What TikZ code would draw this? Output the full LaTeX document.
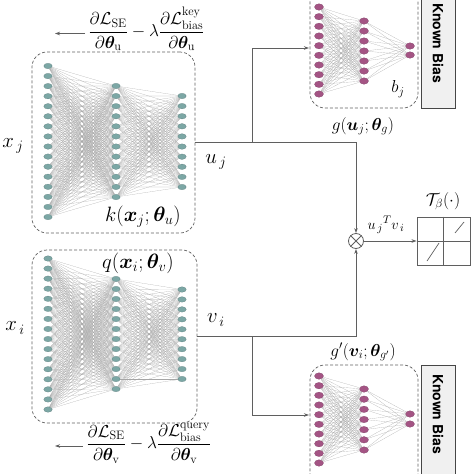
\documentclass[tikz,border=0pt]{standalone}
\usepackage{amsmath,bm}
\usepackage{fontspec}
\newfontfamily\biasfont{TeX Gyre Heros}
\usetikzlibrary{arrows.meta,shapes.geometric}

\definecolor{keyteal}{RGB}{124,167,165}
\definecolor{biasplum}{RGB}{164,84,132}
\definecolor{linegray}{RGB}{95,95,95}

\tikzset{x=1pt,y=-1pt,
  tealunit/.style={ellipse,draw=keyteal!75!black,fill=keyteal,line width=0.2pt,
    inner sep=0pt,minimum width=8.5pt,minimum height=5.5pt},
  plumunit/.style={ellipse,draw=biasplum!75!black,fill=biasplum,line width=0.2pt,
    inner sep=0pt,minimum width=9pt,minimum height=6.5pt},
  wire/.style={draw=gray!70,line width=0.15pt},
  netbox/.style={draw=linegray,dash pattern=on 3pt off 2pt,rounded corners=15pt,
    line width=0.7pt,inner sep=0pt},
  flow/.style={draw=linegray,line width=0.8pt,-{Stealth[length=5pt,width=3.5pt]}},
  plain/.style={draw=linegray,line width=0.8pt},
  biasbox/.style={draw=gray!55!black,fill=gray!12,line width=0.9pt,inner sep=0pt},
  biastext/.style={rotate=-90,font=\biasfont\bfseries\fontsize{14}{16}\selectfont},
  lblbig/.style={font=\fontsize{21}{24}\selectfont},
  lblmid/.style={font=\fontsize{17}{20}\selectfont},
  lblgrad/.style={font=\fontsize{17.5}{20}\selectfont},
  lblsmall/.style={font=\fontsize{15}{18}\selectfont}}

% one column of units: name, x, first y, last y, count, style
\newcommand{\unitcol}[6]{%
  \foreach \ik in {1,...,#5}
    \node[#6] (#1\ik) at (#2,{#3+(\ik-1)*(#4-#3)/(#5-1)}) {};}
% every unit of one column to every unit of the next
\newcommand{\fullwire}[4]{%
  \foreach \ia in {1,...,#2}
    \foreach \ib in {1,...,#4}
      \draw[wire] (#1\ia) -- (#3\ib);}

\begin{document}
\begin{tikzpicture}
\useasboundingbox (0,0) rectangle (474,474);
\clip (0,0) rectangle (474,474);

% key network k
\node[netbox,minimum width=163pt,minimum height=181pt] (kbox) at (113.5,142.5) {};
\unitcol{kA}{48}{66}{217}{16}{tealunit}
\unitcol{kB}{116}{86}{197}{12}{tealunit}
\unitcol{kC}{182}{96}{187}{10}{tealunit}
\fullwire{kA}{16}{kB}{12}
\fullwire{kB}{12}{kC}{10}

% query network q
\node[netbox,minimum width=165pt,minimum height=173pt] (qbox) at (114.5,336.5) {};
\unitcol{qA}{48}{258.5}{409.5}{16}{tealunit}
\unitcol{qB}{116}{279}{389}{12}{tealunit}
\unitcol{qC}{182}{289.5}{379}{10}{tealunit}
\fullwire{qA}{16}{qB}{12}
\fullwire{qB}{12}{qC}{10}

% bias network g
\node[netbox,minimum width=108pt,minimum height=140pt] (gbox) at (364,38) {};
\unitcol{gA}{319}{7}{94}{10}{plumunit}
\unitcol{gB}{364}{21}{81}{7}{plumunit}
\unitcol{gC}{410}{46}{55}{2}{plumunit}
\fullwire{gA}{10}{gB}{7}
\fullwire{gB}{7}{gC}{2}

% bias network g'
\node[netbox,minimum width=108pt,minimum height=140pt] (hbox) at (364,435) {};
\unitcol{hA}{319}{376}{463}{10}{plumunit}
\unitcol{hB}{364}{389}{450}{7}{plumunit}
\unitcol{hC}{410}{414}{424}{2}{plumunit}
\fullwire{hA}{10}{hB}{7}
\fullwire{hB}{7}{hC}{2}

% known bias
\node[biasbox,minimum width=34pt,minimum height=140pt] (kbias) at (438,38) {};
\node[biastext] (kbiastext) at (438,43) {Known Bias};
\node[biasbox,minimum width=34pt,minimum height=140pt] (qbias) at (438,435) {};
\node[biastext] (qbiastext) at (438,414) {Known Bias};

% labels
\node[lblbig] (xj) at (13,146) {$x_{\,j}$};
\node[lblbig] (uj) at (216,162) {$u_{\,j}$};
\node[lblbig] (xi) at (15,328) {$x_{\,i}$};
\node[lblbig] (vi) at (216,320) {$v_{\,i}$};
\node[lblbig] (klbl) at (143,217) {$k(\bm{x}_j;\bm{\theta}_u)$};
\node[lblbig] (qlbl) at (138,263) {$q(\bm{x}_i;\bm{\theta}_v)$};
\node[lblmid] (glbl) at (363,126) {$g(\bm{u}_j;\bm{\theta}_g)$};
\node[lblmid] (hlbl) at (363,352) {$g'(\bm{v}_i;\bm{\theta}_{g'})$};
\node[lblmid] (blbl) at (398,89) {$b_j$};
\node[lblmid] (tlbl) at (443,201) {$\mathcal{T}_{\beta}(\cdot)$};
\node[lblsmall] (dotlbl) at (386,225) {$u_{\,j}{}^{T}v_{\,i}$};

% gradients
\node[lblgrad,anchor=west] (kgrad) at (85,29)
  {$\dfrac{\partial\mathcal{L}_{\mathrm{SE}}}{\partial\bm{\theta}_{\mathrm{u}}}
    -\lambda\dfrac{\partial\mathcal{L}^{\mathrm{key}}_{\mathrm{bias}}}{\partial\bm{\theta}_{\mathrm{u}}}$};
\node[lblgrad,anchor=west] (qgrad) at (83,443)
  {$\dfrac{\partial\mathcal{L}_{\mathrm{SE}}}{\partial\bm{\theta}_{\mathrm{v}}}
    -\lambda\dfrac{\partial\mathcal{L}^{\mathrm{query}}_{\mathrm{bias}}}{\partial\bm{\theta}_{\mathrm{v}}}$};
\draw[flow] ([yshift=-4.5pt]kgrad.west) -- ++(-30,0);
\draw[flow] ([yshift=-3pt]qgrad.west) -- ++(-28,0);

% product and threshold
\node[circle,draw=linegray,line width=0.8pt,minimum size=15pt,inner sep=0pt] (prod) at (356,241) {};
\draw[plain] (prod.north west) -- (prod.south east) (prod.north east) -- (prod.south west);
\node[draw=linegray,line width=0.9pt,minimum width=53pt,minimum height=48pt,inner sep=0pt] (tbox) at (443.5,241) {};
\draw[plain] (tbox.north) -- (tbox.south) (tbox.west) -- (tbox.east);
\draw[plain,line width=0.7pt] (455,233) -- (464,222) (427,261) -- (439,243);

% flows
\coordinate (usplit) at (252,142.5);
\coordinate (gin) at (309,48);
\coordinate (vsplit) at (252,336.5);
\coordinate (hin) at (309,415);
\draw[flow] (kbox.east) -| (prod.north);
\draw[flow] (usplit) |- (gin);
\draw[flow] (qbox.east) -| (prod.south);
\draw[flow] (vsplit) |- (hin);
\draw[flow] (prod) -- (tbox);
\end{tikzpicture}
\end{document}
